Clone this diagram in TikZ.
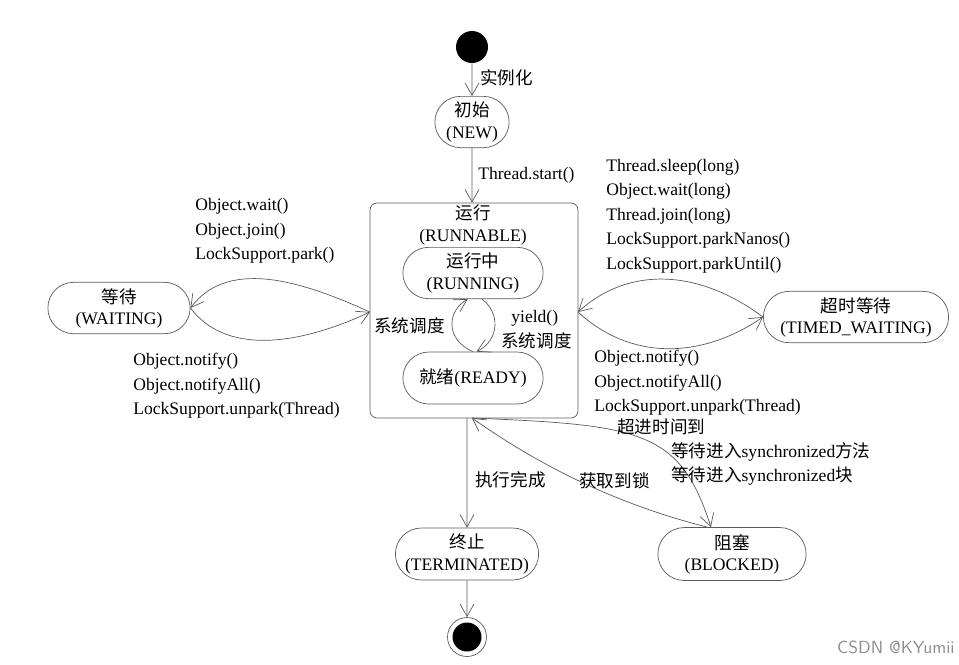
\documentclass[tikz,border=0pt]{standalone}
\usepackage{fontspec}
\setmainfont{Liberation Serif}
\newfontfamily\cjk{Noto Sans CJK SC}
\usepackage{xcolor}
\usetikzlibrary{shapes.misc,arrows.meta}
\definecolor{linegray}{RGB}{90,90,90}
\definecolor{markgray}{RGB}{140,140,140}
\tikzset{
  state/.style={rounded rectangle, draw=linegray, minimum height=1cm, align=center, font=\fontsize{10}{12}\selectfont},
  lbl/.style={font=\fontsize{10}{14}\selectfont, align=left, inner sep=0pt},
  arr/.style={draw=linegray, -{Straight Barb[length=2.5mm,width=2.8mm]}}
}
\begin{document}
\begin{tikzpicture}[x=0.02cm, y=-0.02cm]
  \useasboundingbox (0,0) rectangle (959,664);
  % start and end
  \node[circle, fill=black, minimum size=0.64cm, inner sep=0pt] (start) at (472,47) {};
  \node[circle, draw=linegray, minimum size=0.78cm, inner sep=0pt] (endo) at (467,637) {};
  \node[circle, fill=black, minimum size=0.58cm, inner sep=0pt] (endi) at (467,637) {};
  % states
  \node[state, minimum width=1.72cm, minimum height=0.96cm] (new) at (472,122) {{\cjk 初始}\\(NEW)};
  \node[draw=linegray, rounded corners=4pt, minimum width=4.16cm, minimum height=4.3cm] (runnable) at (474,310.5) {};
  \node[lbl, align=center, font=\fontsize{10}{12}\selectfont] (runtitle) at (473,225) {{\cjk 运行}\\(RUNNABLE)};
  \node[state, minimum width=3.04cm] (running) at (473,273) {{\cjk 运行中}\\(RUNNING)};
  \node[state, minimum width=3.04cm, minimum height=1.04cm] (ready) at (473,378) {{\cjk 就绪}(READY)};
  \node[state, minimum width=3.08cm] (waiting) at (119,308) {{\cjk 等待}\\(WAITING)};
  \node[state, minimum width=3.94cm] (timed) at (856,317) {{\cjk 超时等待}\\(TIMED\_WAITING)};
  \node[state, minimum width=3.1cm, minimum height=1.04cm] (term) at (467,554) {{\cjk 终止}\\(TERMINATED)};
  \node[state, minimum width=3.2cm, minimum height=1.06cm] (blocked) at (732,554) {{\cjk 阻塞}\\(BLOCKED)};
  % helper points
  \coordinate (rl) at (370,312);
  \coordinate (rr) at (578,312);
  \coordinate (rb) at (472,418);
  \coordinate (rbt) at (467,418);
  % edges
  \draw[arr] (start) -- (new);
  \draw[arr] (new) -- (runnable.north -| new);
  \draw[arr] (rbt) -- (term);
  \draw[arr] (term) -- (endo);
  \draw[arr] (ready.north) .. controls (446,340) and (446,312) .. ([xshift=-3pt]running.south);
  \draw[arr] ([xshift=5pt]running.south) .. controls (500,312) and (500,340) .. ([xshift=2pt]ready.north);
  \draw[arr] (rl) .. controls (310,285) and (230,255) .. (waiting.east);
  \draw[arr] (waiting.east) .. controls (230,360) and (310,340) .. (rl);
  \draw[arr] (timed.west) .. controls (700,270) and (630,265) .. (rr);
  \draw[arr] (rr) .. controls (630,360) and (700,360) .. (timed.west);
  \draw[arr] (rb) .. controls (640,425) and (680,430) .. ([xshift=-12pt]blocked.north);
  \draw[arr] ([xshift=-14pt]blocked.north) .. controls (640,510) and (560,480) .. (rb);
  % labels
  \node[lbl, anchor=west] (l0) at (480,78) {\cjk 实例化};
  \node[lbl, anchor=west] (l1) at (478,175) {Thread.start()};
  \node[lbl, anchor=west] (l2) at (195,231) {Object.wait()\\Object.join()\\LockSupport.park()};
  \node[lbl, anchor=west] (l3) at (133,386) {Object.notify()\\Object.notifyAll()\\LockSupport.unpark(Thread)};
  \node[lbl, anchor=west] (l4) at (606,216) {Thread.sleep(long)\\Object.wait(long)\\Thread.join(long)\\LockSupport.parkNanos()\\LockSupport.parkUntil()};
  \node[lbl, anchor=west] (l5) at (594,383) {Object.notify()\\Object.notifyAll()\\LockSupport.unpark(Thread)};
  \node[lbl, anchor=west] (l6) at (374,326) {\cjk 系统调度};
  \node[lbl, anchor=west] (l7) at (511,318) {yield()};
  \node[lbl, anchor=west] (l8) at (501,341) {\cjk 系统调度};
  \node[lbl, anchor=west] (l9) at (475,480) {\cjk 执行完成};
  \node[lbl, anchor=west] (l10) at (579,481) {\cjk 获取到锁};
  \node[lbl, anchor=west] (l11) at (617,427) {\cjk 超进时间到};
  \node[lbl, anchor=west] (l12) at (671,464) {{\cjk 等待进入}synchronized{\cjk 方法}\\{\cjk 等待进入}synchronized{\cjk 块}};
  \node[lbl, anchor=east, text=markgray, font=\fontsize{10}{12}\sffamily] (mark) at (955,647) {CSDN @KYumii};
\end{tikzpicture}
\end{document}
